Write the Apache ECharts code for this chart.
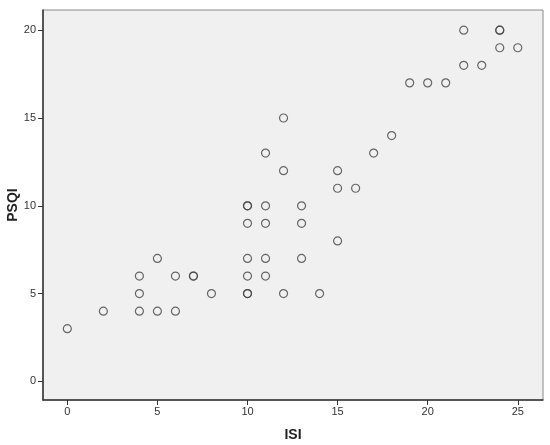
<!DOCTYPE html>
<html>
<head>
<meta charset="utf-8">
<script src="https://cdn.jsdelivr.net/npm/echarts@6/dist/echarts.min.js"></script>
<style>
  html, body { margin: 0; padding: 0; background: #fff; }
  #myCharts { width: 550px; height: 445px; }
</style>
</head>
<body>
<div id="myCharts"></div>
<script>
// 数据 (duplicates kept: they draw darker in the original)
const isi = [0, 2, 4, 4, 4, 5, 5, 6, 6, 7, 7, 8, 10, 10, 10, 10, 10, 10, 10, 11, 11, 11, 11, 11, 12, 12, 12, 13, 13, 13, 14, 15, 15, 15, 16, 17, 18, 19, 20, 21, 22, 22, 23, 24, 24, 24, 25];
const psqi = [3, 4, 4, 5, 6, 4, 7, 4, 6, 6, 6, 5, 5, 5, 6, 7, 9, 10, 10, 6, 7, 9, 10, 13, 5, 12, 15, 7, 9, 10, 5, 8, 11, 12, 11, 13, 14, 17, 17, 17, 18, 20, 18, 19, 20, 20, 19];
const xTicks = [0, 5, 10, 15, 20, 25];
const yTicks = [0, 5, 10, 15, 20];

const myCharts = echarts.init(document.getElementById("myCharts"));
const font = "Liberation Sans, Arial, sans-serif";

let option = {
  animation: false,
  grid: {
    left: 43,
    top: 10,
    right: 7,
    bottom: 45,
    containLabel: false,
    outerBoundsMode: "none",
    show: true,
    backgroundColor: "#f0f0f0",
    borderColor: "#8a8a8a",
    borderWidth: 1
  },
  xAxis: {
    type: "value",
    min: -1.35,
    max: 26.4,
    name: "ISI",
    nameLocation: "middle",
    nameGap: 28,
    nameMoveOverlap: false,
    nameTextStyle: { fontFamily: font, fontSize: 14, fontWeight: "bold", color: "#222" },
    axisLine: { show: true, onZero: false, lineStyle: { color: "#333", width: 1.5 } },
    axisTick: { show: true, length: 5, customValues: xTicks, lineStyle: { color: "#333" } },
    axisLabel: { customValues: xTicks, margin: 6, fontFamily: font, fontSize: 11, color: "#333" },
    splitLine: { show: false }
  },
  yAxis: {
    type: "value",
    min: -1.06,
    max: 21.15,
    name: "PSQI",
    nameLocation: "middle",
    nameGap: 23,
    nameMoveOverlap: false,
    nameTextStyle: { fontFamily: font, fontSize: 14, fontWeight: "bold", color: "#222" },
    axisLine: { show: true, onZero: false, lineStyle: { color: "#333", width: 1.5 } },
    axisTick: { show: true, length: 5, customValues: yTicks, lineStyle: { color: "#333" } },
    axisLabel: { customValues: yTicks, margin: 7, fontFamily: font, fontSize: 11, color: "#333" },
    splitLine: { show: false }
  },
  series: [
    {
      type: "scatter",
      data: isi.map((v, i) => [v, psqi[i]]),
      symbol: "circle",
      symbolSize: 8,
      itemStyle: { color: "transparent", borderColor: "#444", borderWidth: 1.2 }
    }
  ]
};
myCharts.setOption(option);
</script>
</body>
</html>
